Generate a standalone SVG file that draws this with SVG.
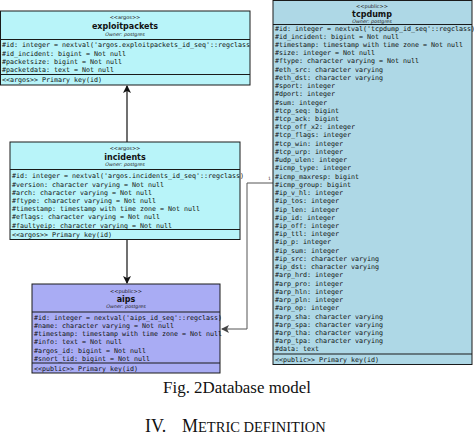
<svg xmlns="http://www.w3.org/2000/svg" width="474" height="437" viewBox="0 0 474 437">
<style>
.box{stroke:#1a1a1a;stroke-width:1}
.cyan{fill:#b8f4f9}
.lav{fill:#a9acf4}
.lb{fill:#aed8e6}
.div{stroke:#1a1a1a;stroke-width:1}
.st{font-family:"DejaVu Sans",sans-serif;font-size:5px;fill:#222;text-anchor:middle}
.nm{font-family:"DejaVu Sans",sans-serif;font-size:8px;font-weight:bold;fill:#111;text-anchor:middle}
.ow{font-family:"DejaVu Sans",sans-serif;font-size:4.8px;font-style:italic;fill:#222;text-anchor:middle}
.at{font-family:"DejaVu Sans Mono",monospace;font-size:6.65px;fill:#111}
.cap{font-family:"Liberation Serif",serif;fill:#111}
.conn{fill:none;stroke:#111;stroke-width:1.2}
.conn2{fill:none;stroke:#555;stroke-width:1}
</style>
<defs>
<marker id="ah" markerWidth="8" markerHeight="8" refX="7" refY="4" orient="auto" markerUnits="userSpaceOnUse">
<path d="M0,0 L8,4 L0,8 L2,4 Z" fill="#111"/>
</marker>
<marker id="ah2" markerWidth="8" markerHeight="8" refX="7" refY="4" orient="auto" markerUnits="userSpaceOnUse">
<path d="M0,0 L8,4 L0,8 L2,4 Z" fill="#444"/>
</marker>
<clipPath id="cpE"><rect x="0" y="11" width="250" height="75"/></clipPath>
<clipPath id="cpT"><rect x="273" y="0" width="201" height="365"/></clipPath>
</defs>

<g id="connectors">
<line class="conn" x1="127" y1="142" x2="127" y2="86" marker-end="url(#ah)"/>
<line class="conn" x1="127" y1="240" x2="127" y2="283" marker-end="url(#ah)"/>
<polyline class="conn2" points="273,183 247,183 247,329 222,329" marker-end="url(#ah2)"/>
<text x="268" y="180" style="font-family:'DejaVu Sans',sans-serif;font-size:4.5px;fill:#333">1</text>
</g>

<g id="exploitpackets">
<rect class="box cyan" x="0.5" y="11" width="249.5" height="74"/>
<line class="div" x1="0.5" y1="39.5" x2="250" y2="39.5"/>
<line class="div" x1="0.5" y1="74.5" x2="250" y2="74.5"/>
<text class="st" x="125" y="18.8">&lt;&lt;argos&gt;&gt;</text>
<text class="nm" x="125" y="28.8">exploitpackets</text>
<text class="ow" x="125" y="35.5">Owner: postgres</text>
<g clip-path="url(#cpE)">
<text class="at" x="2" y="47.3">#id: integer = nextval('argos.exploitpackets_id_seq'::regclass)</text>
<text class="at" x="2" y="55.5">#id_incident: bigint = Not null</text>
<text class="at" x="2" y="63.7">#packetsize: bigint = Not null</text>
<text class="at" x="2" y="71.9">#packetdata: text = Not null</text>
<text class="at" x="2" y="82.3">&lt;&lt;argos&gt;&gt; Primary key(id)</text>
</g>
</g>

<g id="incidents">
<rect class="box cyan" x="10" y="142" width="230" height="97.5"/>
<line class="div" x1="10" y1="169.5" x2="240" y2="169.5"/>
<line class="div" x1="10" y1="229.5" x2="240" y2="229.5"/>
<text class="st" x="125" y="149.8">&lt;&lt;argos&gt;&gt;</text>
<text class="nm" x="125" y="159.8">incidents</text>
<text class="ow" x="125" y="166">Owner: postgres</text>
<text class="at" x="12" y="178.3">#id: integer = nextval('argos.incidents_id_seq'::regclass)</text>
<text class="at" x="12" y="186.5">#version: character varying = Not null</text>
<text class="at" x="12" y="194.7">#arch: character varying = Not null</text>
<text class="at" x="12" y="202.9">#ftype: character varying = Not null</text>
<text class="at" x="12" y="211.1">#timestamp: timestamp with time zone = Not null</text>
<text class="at" x="12" y="219.3">#eflags: character varying = Not null</text>
<text class="at" x="12" y="227.5">#faultyeip: character varying = Not null</text>
<text class="at" x="12" y="237">&lt;&lt;argos&gt;&gt; Primary key(id)</text>
</g>

<g id="aips">
<rect class="box lav" x="32" y="284" width="188" height="89"/>
<line class="div" x1="32" y1="312" x2="220" y2="312"/>
<line class="div" x1="32" y1="363" x2="220" y2="363"/>
<text class="st" x="126" y="292.8">&lt;&lt;public&gt;&gt;</text>
<text class="nm" x="126" y="301.8">aips</text>
<text class="ow" x="126" y="308">Owner: postgres</text>
<text class="at" x="34" y="319.8">#id: integer = nextval('aips_id_seq'::regclass)</text>
<text class="at" x="34" y="328">#name: character varying = Not null</text>
<text class="at" x="34" y="336.2">#timestamp: timestamp with time zone = Not null</text>
<text class="at" x="34" y="344.4">#info: text = Not null</text>
<text class="at" x="34" y="352.6">#argos_id: bigint = Not null</text>
<text class="at" x="34" y="360.8">#snort_tid: bigint = Not null</text>
<text class="at" x="34" y="370.5">&lt;&lt;public&gt;&gt; Primary key(id)</text>
</g>

<g id="tcpdump">
<rect class="box lb" x="273" y="0.5" width="199" height="364"/>
<line class="div" x1="273" y1="24.5" x2="472" y2="24.5"/>
<line class="div" x1="273" y1="354" x2="472" y2="354"/>
<text class="st" x="372" y="8">&lt;&lt;public&gt;&gt;</text>
<text class="nm" x="372" y="16.8">tcpdump</text>
<text class="ow" x="372" y="22.5">Owner: postgres</text>
<g clip-path="url(#cpT)">
<text class="at" x="275" y="30.5">#id: integer = nextval('tcpdump_id_seq'::regclass)</text>
<text class="at" x="275" y="38.73">#id_incident: bigint = Not null</text>
<text class="at" x="275" y="46.96">#timestamp: timestamp with time zone = Not null</text>
<text class="at" x="275" y="55.19">#size: integer = Not null</text>
<text class="at" x="275" y="63.42">#ftype: character varying = Not null</text>
<text class="at" x="275" y="71.65">#eth_src: character varying</text>
<text class="at" x="275" y="79.88">#eth_dst: character varying</text>
<text class="at" x="275" y="88.11">#sport: integer</text>
<text class="at" x="275" y="96.34">#dport: integer</text>
<text class="at" x="275" y="104.57">#sum: integer</text>
<text class="at" x="275" y="112.8">#tcp_seq: bigint</text>
<text class="at" x="275" y="121.03">#tcp_ack: bigint</text>
<text class="at" x="275" y="129.26">#tcp_off_x2: integer</text>
<text class="at" x="275" y="137.49">#tcp_flags: integer</text>
<text class="at" x="275" y="145.72">#tcp_win: integer</text>
<text class="at" x="275" y="153.95">#tcp_urp: integer</text>
<text class="at" x="275" y="162.18">#udp_ulen: integer</text>
<text class="at" x="275" y="170.41">#icmp_type: integer</text>
<text class="at" x="275" y="178.64">#icmp_maxresp: bigint</text>
<text class="at" x="275" y="186.87">#icmp_group: bigint</text>
<text class="at" x="275" y="195.1">#ip_v_hl: integer</text>
<text class="at" x="275" y="203.33">#ip_tos: integer</text>
<text class="at" x="275" y="211.56">#ip_len: integer</text>
<text class="at" x="275" y="219.79">#ip_id: integer</text>
<text class="at" x="275" y="228.02">#ip_off: integer</text>
<text class="at" x="275" y="236.25">#ip_ttl: integer</text>
<text class="at" x="275" y="244.48">#ip_p: integer</text>
<text class="at" x="275" y="252.71">#ip_sum: integer</text>
<text class="at" x="275" y="260.94">#ip_src: character varying</text>
<text class="at" x="275" y="269.17">#ip_dst: character varying</text>
<text class="at" x="275" y="277.4">#arp_hrd: integer</text>
<text class="at" x="275" y="285.63">#arp_pro: integer</text>
<text class="at" x="275" y="293.86">#arp_hln: integer</text>
<text class="at" x="275" y="302.09">#arp_pln: integer</text>
<text class="at" x="275" y="310.32">#arp_op: integer</text>
<text class="at" x="275" y="318.55">#arp_sha: character varying</text>
<text class="at" x="275" y="326.78">#arp_spa: character varying</text>
<text class="at" x="275" y="335.01">#arp_tha: character varying</text>
<text class="at" x="275" y="343.24">#arp_tpa: character varying</text>
<text class="at" x="275" y="351.47">#data: text</text>
<text class="at" x="275" y="361.5">&lt;&lt;public&gt;&gt; Primary key(id)</text>
</g>
</g>

<g id="caption">
<text class="cap" x="237" y="393" text-anchor="middle" font-size="16.9">Fig. 2Database model</text>
<text class="cap" x="145" y="432" font-size="18">IV.</text>
<text class="cap" x="182" y="432" font-size="18">M<tspan font-size="14.5">ETRIC DEFINITION</tspan></text>
</g>
</svg>
